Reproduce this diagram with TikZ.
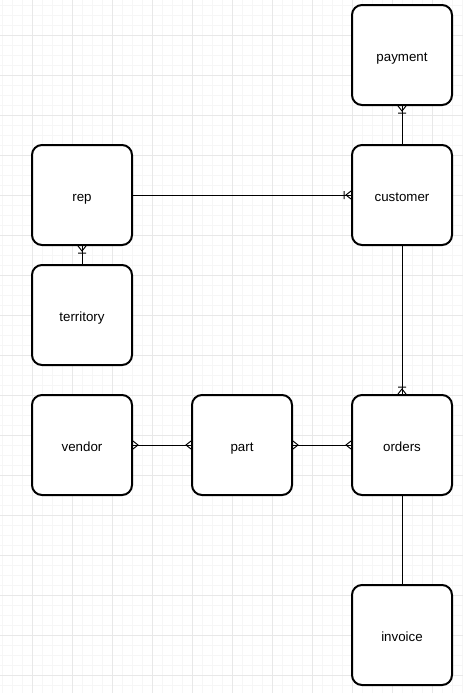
\documentclass[tikz,border=0pt]{standalone}
\usepackage{fontspec}
\setmainfont{Liberation Sans}
\usetikzlibrary{calc}

\tikzset{
  entity/.style={draw, line width=1.5pt, rounded corners=7.5pt, minimum width=75pt, minimum height=75pt, inner sep=0pt, fill=white, text height=9.5pt, text depth=0pt, font=\fontsize{10}{12}\selectfont},
  conn/.style={line width=0.75pt},
  minorgrid/.style={color={rgb, 255:red, 246; green, 246; blue, 246 }, line width=0.75pt},
  majorgrid/.style={color={rgb, 255:red, 232; green, 232; blue, 232 }, line width=0.75pt}
}

\begin{document}
\begin{tikzpicture}[x=0.75pt,y=0.75pt,yscale=-1,xscale=1]
\useasboundingbox (0,0) rectangle (463,693);

%Grid
\foreach \gx in {2,12,...,462} {\draw [minorgrid] (\gx,0) -- (\gx,693);}
\foreach \gy in {5,15,...,692} {\draw [minorgrid] (0,\gy) -- (463,\gy);}
\foreach \gx in {32,72,...,462} {\draw [majorgrid] (\gx,0) -- (\gx,693);}
\foreach \gy in {35,75,...,692} {\draw [majorgrid] (0,\gy) -- (463,\gy);}

% Entities
\node [entity] (payment) at (402,55) {payment};
\node [entity] (rep) at (82,195) {rep};
\node [entity] (customer) at (402,195) {customer};
\node [entity] (territory) at (82,315) {territory};
\node [entity] (vendor) at (82,445) {vendor};
\node [entity] (part) at (242,445) {part};
\node [entity] (orders) at (402,445) {orders};
\node [entity] (invoice) at (402,635) {invoice};

% Relations
\draw [conn] (payment) -- (customer);
\draw [conn] (rep) -- (customer);
\draw [conn] (rep) -- (territory);
\draw [conn] (customer) -- (orders);
\draw [conn] (vendor) -- (part);
\draw [conn] (part) -- (orders);
\draw [conn] (orders) -- (invoice);

% One or many
\begin{scope}[shift={(payment.south)}]
\draw [conn] (-4,0) -- (0,5) -- (4,0) (-4,7) -- (4,7);
\end{scope}
\begin{scope}[shift={(rep.south)}]
\draw [conn] (-4,0) -- (0,5) -- (4,0) (-4,7) -- (4,7);
\end{scope}
\begin{scope}[shift={(customer.west)}]
\draw [conn] (0,-4) -- (-5,0) -- (0,4) (-7,-4) -- (-7,4);
\end{scope}
\begin{scope}[shift={(orders.north)}]
\draw [conn] (-4,0) -- (0,-5) -- (4,0) (-4,-7) -- (4,-7);
\end{scope}

% Many
\begin{scope}[shift={(vendor.east)}]
\draw [conn] (0,-4) -- (5,0) -- (0,4);
\end{scope}
\begin{scope}[shift={(part.west)}]
\draw [conn] (0,-4) -- (-5,0) -- (0,4);
\end{scope}
\begin{scope}[shift={(part.east)}]
\draw [conn] (0,-4) -- (5,0) -- (0,4);
\end{scope}
\begin{scope}[shift={(orders.west)}]
\draw [conn] (0,-4) -- (-5,0) -- (0,4);
\end{scope}

\end{tikzpicture}
\end{document}
